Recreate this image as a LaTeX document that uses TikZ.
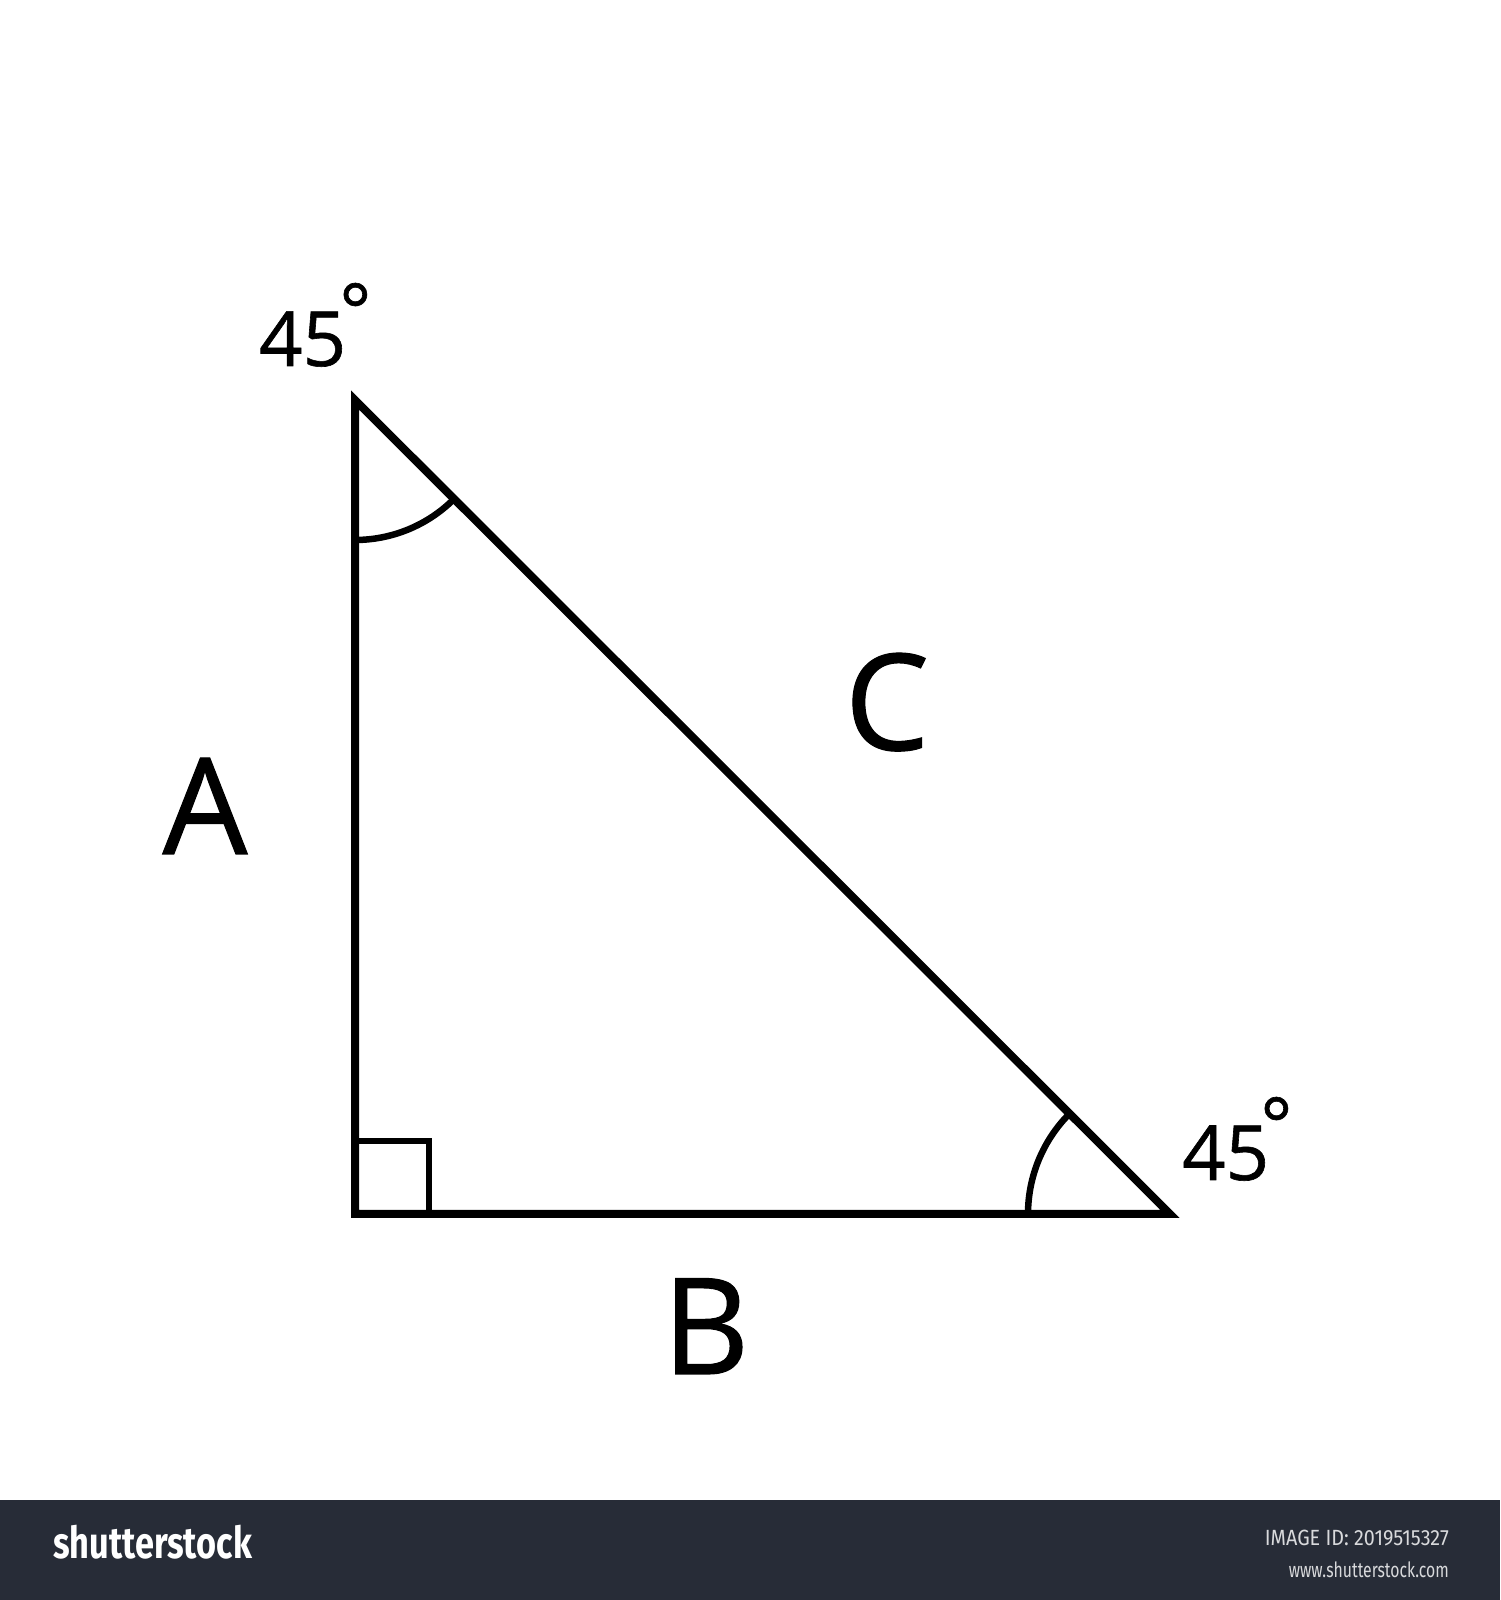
\documentclass[tikz,border=0pt]{standalone}
\usepackage{fontspec}
\setmainfont[FakeBold=0.8]{Open Sans}
\newfontfamily\barfont{Fira Sans}
\definecolor{barbg}{HTML}{272C37}
\definecolor{bartext}{HTML}{D9DADC}
\begin{document}
\begin{tikzpicture}[x=1pt,y=1pt,
  edge/.style={line width=8pt, line join=miter, line cap=butt},
  arcmark/.style={line width=6.5pt},
  sidelabel/.style={inner sep=0pt, anchor=base, font=\fontsize{134}{134}\selectfont},
  anglelabel/.style={inner sep=0pt, anchor=base west, font=\fontsize{76}{76}\selectfont},
]
\useasboundingbox (0,0) rectangle (1500,1600);
\fill[white] (0,0) rectangle (1500,1600);
% triangle
\coordinate (T) at (355,1200);
\coordinate (L) at (355,386);
\coordinate (R) at (1170,386);
\draw[edge] (T) -- (L) -- (R) -- cycle;
% angle marks
\draw[arcmark] (355,1060) arc[start angle=270, end angle=315, radius=140];
\draw[arcmark] (1028,386) arc[start angle=180, end angle=135, radius=142];
\draw[arcmark] (355,459) -- (429,459) -- (429,386);
% labels
\node[sidelabel] (a) at (205,746) {A};
\node[sidelabel] (b) at (706,226) {B};
\node[sidelabel] (c) at (887,850) {C};
\node[anglelabel] (t) at (259,1234) {45\kern-7pt\raisebox{28pt}{°}};
\node[anglelabel] (r) at (1182,420) {45\kern-9pt\raisebox{28pt}{°}};
% footer bar
\fill[barbg] (0,0) rectangle (1500,100);
\node[inner sep=0pt, anchor=base west, text=white, font=\barfont\bfseries\fontsize{44}{44}\selectfont] (logo) at (53,41) {\scalebox{0.78}[1]{shutterstock}};
\node[inner sep=0pt, anchor=base east, text=bartext, font=\barfont\fontsize{22}{22}\selectfont] (id) at (1449,54) {\scalebox{0.9}[1]{IMAGE ID: 2019515327}};
\node[inner sep=0pt, anchor=base east, text=bartext, font=\barfont\fontsize{21}{21}\selectfont] (url) at (1449,23) {\scalebox{0.75}[1]{www.shutterstock.com}};
\end{tikzpicture}
\end{document}
